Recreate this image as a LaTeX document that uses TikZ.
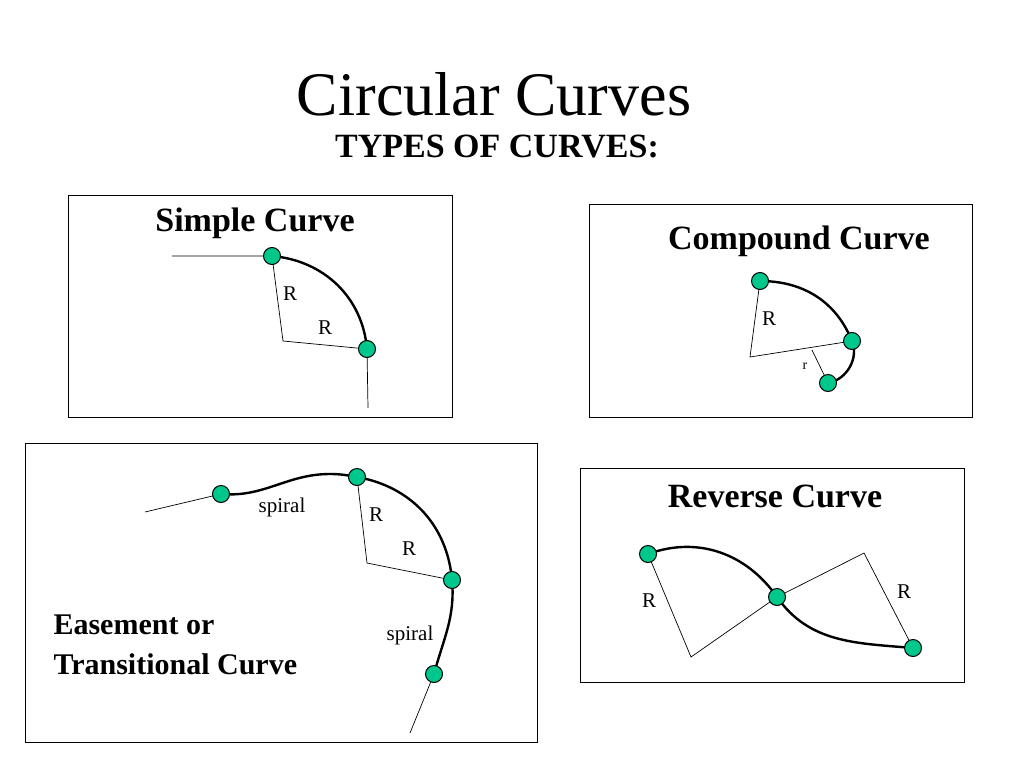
\documentclass[tikz,border=0pt]{standalone}
\usepackage{fontspec}
\setmainfont{Liberation Serif}
\begin{document}
\begin{tikzpicture}[x=1pt,y=-1pt,
  dot/.style={circle,draw=black,fill={rgb,255:red,0;green,200;blue,140},line width=1pt,minimum size=17pt,inner sep=0pt},
  frame/.style={draw=black,line width=0.8pt},
  thin/.style={draw=black,line width=0.7pt},
  thick/.style={draw=black,line width=2.4pt},
  lbl/.style={font=\fontsize{21}{24}\selectfont},
  head/.style={font=\bfseries\fontsize{34}{40}\selectfont}]
\useasboundingbox (0,0) rectangle (1024,768);
\node[font=\fontsize{62}{70}\selectfont] (title) at (494,94) {Circular Curves};
\node[font=\bfseries\fontsize{34}{40}\selectfont] (sub) at (497,147) {TYPES OF CURVES:};
% Simple
\draw[frame] (68,195) rectangle (452,417);
\node[head] (s) at (255,223) {Simple Curve};
\coordinate (s0) at (172,256); \coordinate (sA) at (272,256);
\coordinate (sO) at (283,341); \coordinate (sB) at (367,349); \coordinate (s1) at (368,408);
\draw[thin] (s0)--(sA)--(sO)--(sB)--(s1);
\draw[thick] (sA) to[out=-5,in=95] (sB);
\node[dot] at (sA) {}; \node[dot] at (sB) {};
\node[lbl] at (290,294) {R}; \node[lbl] at (325,328) {R};
% Compound
\draw[frame] (589,204) rectangle (972,417);
\node[head] (c) at (799,241) {Compound Curve};
\coordinate (cA) at (760,281); \coordinate (cB) at (852,341); \coordinate (cC) at (828,383);
\coordinate (cO) at (750,357); \coordinate (co) at (812,350);
\draw[thin] (cA)--(cO)--(cB); \draw[thin] (co)--(cC);
\draw[thick] (cA) to[out=0,in=112] (cB);
\draw[thick] (cB) to[out=-68,in=10] (cC);
\node[dot] at (cA) {}; \node[dot] at (cB) {}; \node[dot] at (cC) {};
\node[lbl] at (769,319) {R}; \node[font=\fontsize{14}{16}\selectfont] at (805,366) {r};
% Easement
\draw[frame] (25,443) rectangle (537,742);
\coordinate (e0) at (145,512); \coordinate (eA) at (221,494); \coordinate (eB) at (357,477);
\coordinate (eO) at (367,563); \coordinate (eC) at (452,580); \coordinate (eD) at (434,674);
\coordinate (e1) at (410,733);
\draw[thin] (e0)--(eA); \draw[thin] (eB)--(eO)--(eC); \draw[thin] (eD)--(e1);
\draw[thick] (eA) to[out=-5,in=180] (330,474) to[out=0,in=170] (eB);
\draw[thick] (eB) to[out=-10,in=95] (eC);
\draw[thick] (eC) to[out=-85,in=75] (eD);
\node[dot] at (eA) {}; \node[dot] at (eB) {}; \node[dot] at (eC) {}; \node[dot] at (eD) {};
\node[lbl] at (376,515) {R}; \node[lbl] at (409,549) {R};
\node[lbl] at (282,507) {spiral}; \node[lbl] at (410,635) {spiral};
\node[head,anchor=west,align=left,font=\bfseries\fontsize{30}{40}\selectfont] at (50,645) {Easement or\\Transitional Curve};
% Reverse
\draw[frame] (580,468) rectangle (964,682);
\node[head] (r) at (775,496) {Reverse Curve};
\coordinate (rA) at (648,554); \coordinate (rB) at (777,597); \coordinate (rC) at (913,648);
\coordinate (rO1) at (691,657); \coordinate (rO2) at (864,553);
\draw[thin] (rA)--(rO1)--(rB)--(rO2)--(rC);
\draw[thick] (rA) to[out=20,in=125] (rB);
\draw[thick] (rB) to[out=-55,in=175] (rC);
\node[dot] at (rA) {}; \node[dot] at (rB) {}; \node[dot] at (rC) {};
\node[lbl] at (649,601) {R}; \node[lbl] at (904,592) {R};
\end{tikzpicture}
\end{document}
